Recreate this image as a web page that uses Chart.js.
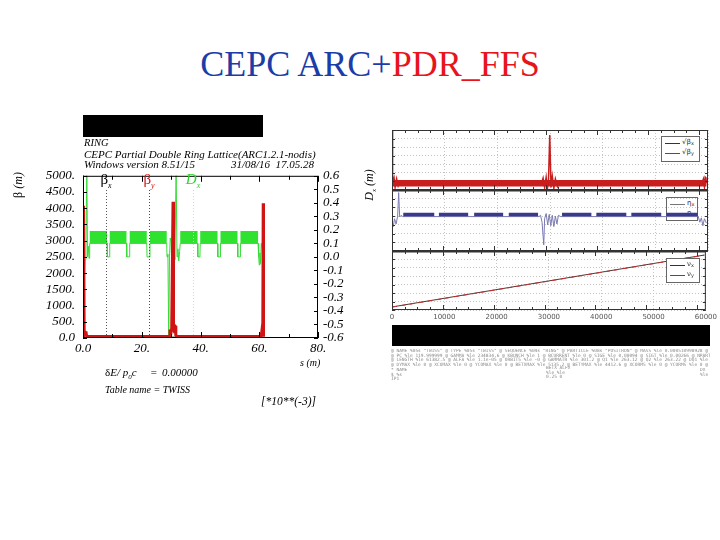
<!DOCTYPE html>
<html>
<head>
<meta charset="utf-8">
<script src="https://cdn.jsdelivr.net/npm/chart.js@4.4.1/dist/chart.umd.min.js"></script>
<style>
  body { margin: 0; background: #fff; }
  #page { position: relative; width: 720px; height: 540px; overflow: hidden; font-family: 'Liberation Serif', 'Times New Roman', serif; }
  .abs { position: absolute; white-space: pre; }
  .it { font-style: italic; }
  canvas { position: absolute; }
  .legend { position: absolute; background: #fff; border: 1px solid #666; font-family: 'DejaVu Sans', sans-serif; font-size: 7px; color: #333; }
  .legend .ln { position: absolute; left: 3px; width: 15px; height: 0; border-top: 1px solid #333; }
  .legend .lb { position: absolute; left: 20px; line-height: 8px; white-space: pre; }
  .legend sub { font-size: 5px; vertical-align: -1px; line-height: 0; }
  .tiny { position: absolute; font-family: 'DejaVu Sans Mono', monospace; font-size: 4.5px; line-height: 4.7px; color: #8a8a8a; white-space: pre; overflow: hidden; }
</style>
</head>
<body>
<div id="page">
  <div class="abs" style="left:10px;width:720px;top:44px;text-align:center;font-size:36px;line-height:40px;"><span style="color:#1c3ca8">CEPC ARC+</span><span style="color:#e8141c">PDR_FFS</span></div>

  <!-- legend of the eta panel sits under its canvas, the band crosses it -->
  <div class="legend" style="left:666px;top:197px;width:30px;height:22px;">
    <div class="ln" style="top:6px;border-color:#777;"></div><div class="lb" style="top:1px;">η<sub>x</sub></div>
    <div class="ln" style="top:15px;border-color:#c81e1e;"></div><div class="lb" style="top:11px;">η<sub>y</sub></div>
  </div>

  <canvas id="twiss" width="380" height="200" style="left:0;top:160px;"></canvas>
  <canvas id="p1" width="340" height="80" style="left:380px;top:120px;"></canvas>
  <canvas id="p2" width="340" height="81" style="left:380px;top:180px;"></canvas>
  <canvas id="p3" width="340" height="100" style="left:380px;top:241px;"></canvas>

  <!-- MAD plot header -->
  <div class="abs" style="left:83px;top:115px;width:180px;height:22px;background:#000;"></div>
  <div class="abs it" style="left:84px;top:137px;font-size:10.5px;line-height:12px;">RING</div>
  <div class="abs it" style="left:84px;top:148px;font-size:11px;line-height:12px;">CEPC Partial Double Ring Lattice(ARC1.2.1-nodis)</div>
  <div class="abs it" style="left:84px;top:158px;font-size:11px;line-height:12px;">Windows version 8.51/15</div>
  <div class="abs it" style="left:231px;top:158px;font-size:11px;line-height:12px;">31/08/16  17.05.28</div>

  <div class="abs" style="left:18px;top:185px;font-size:12px;transform:translate(-50%,-50%) rotate(-90deg);">β <span class="it">(m)</span></div>
  <div class="abs it" style="left:370px;top:185px;font-size:12px;transform:translate(-50%,-50%) rotate(-90deg);">D<sub style="font-size:7px;">x</sub> (m)</div>

  <div class="abs" style="left:106px;top:182px;font-size:15px;line-height:16px;transform:translate(-50%,-50%);color:#000;">β<sub class="it" style="font-size:8px;">x</sub></div>
  <div class="abs" style="left:149px;top:182px;font-size:15px;line-height:16px;transform:translate(-50%,-50%);color:#d01414;">β<sub class="it" style="font-size:8px;">y</sub></div>
  <div class="abs it" style="left:193px;top:182px;font-size:15px;line-height:16px;transform:translate(-50%,-50%);color:#2fd22f;">D<sub style="font-size:8px;">x</sub></div>

  <div class="abs it" style="left:300px;top:357px;font-size:10px;line-height:12px;">s (m)</div>
  <div class="abs it" style="left:105px;top:366px;font-size:11px;line-height:12px;"><span style="font-style:normal">δ</span>E/ p<sub style="font-size:7px;">0</sub>c</div>
  <div class="abs it" style="left:150px;top:366px;font-size:11px;line-height:12px;">=</div>
  <div class="abs it" style="left:162px;top:366px;font-size:11px;line-height:12px;">0.00000</div>
  <div class="abs it" style="left:105px;top:384px;font-size:10px;line-height:12px;">Table name = TWISS</div>
  <div class="abs it" style="left:261px;top:395px;font-size:11.5px;line-height:12px;">[*10**(-3)]</div>

  <!-- right plot legends -->
  <div class="legend" style="left:661px;top:136px;width:37px;height:24px;">
    <div class="ln" style="top:6px;border-color:#333;"></div><div class="lb" style="top:1px;">√β<sub>x</sub></div>
    <div class="ln" style="top:16px;border-color:#c81e1e;"></div><div class="lb" style="top:11px;">√β<sub>y</sub></div>
  </div>
  <div class="legend" style="left:666px;top:258px;width:32px;height:23px;">
    <div class="ln" style="top:6px;border-color:#333;"></div><div class="lb" style="top:1px;">ν<sub>x</sub></div>
    <div class="ln" style="top:16px;border-color:#c81e1e;"></div><div class="lb" style="top:11px;">ν<sub>y</sub></div>
  </div>

  <div class="abs" style="left:392px;top:325px;width:318px;height:21px;background:#000;"></div>
  <div class="tiny" style="left:391px;top:349px;width:319px;">@ NAME %05s "TWISS" @ TYPE %05s "TWISS" @ SEQUENCE %04s "RING" @ PARTICLE %08s "POSITRON" @ MASS %le 0.000510998928 @ CHARGE %le 1 @ ENERGY %le 120
@ PC %le 119.999999 @ GAMMA %le 234834.6 @ KBUNCH %le 1 @ BCURRENT %le 0 @ SIGE %le 0.00094 @ SIGT %le 0.00266 @ NPART %le 0 @ EX %le 1 @ EY %le 1 @ ET %le 1
@ LENGTH %le 61382.5 @ ALFA %le 1.1e-05 @ ORBIT5 %le -0 @ GAMMATR %le 301.2 @ Q1 %le 263.12 @ Q2 %le 263.22 @ DQ1 %le -0.41 @ DQ2 %le -2.1 @ DXMAX %le 0.61
@ DYMAX %le 0 @ XCOMAX %le 0 @ YCOMAX %le 0 @ BETXMAX %le 5135.2 @ BETYMAX %le 4412.6 @ XCORMS %le 0 @ YCORMS %le 0 @ DXRMS %le 0.14 @ DYRMS %le 0</div>
  <div class="tiny" style="left:391px;top:368px;">* NAME
$ %s
IP1</div>
  <div class="tiny" style="left:546px;top:366px;">BETX ALFX
%le %le
0.25 0</div>
  <div class="tiny" style="left:700px;top:368px;">DX
%le</div>
</div>

<script>
// ---- left plot: MAD twiss of the ring, s in km ----
const sTickLabels = ['0.0', '20.', '40.', '60.', '80.'];
const betaTickLabels = ['0.0', '500.', '1000.', '1500.', '2000.', '2500.', '3000.', '3500.', '4000.', '4500.', '5000.'];
const dxTickLabels = ['-0.6', '-0.5', '-0.4', '-0.3', '-0.2', '-0.1', '0.0', '0.1', '0.2', '0.3', '0.4', '0.5', '0.6'];

const sBetaY = [0, 0.1, 0.25, 0.4, 0.6, 0.8, 1.0, 1.2, 1.5, 2.0, 29.4, 29.6, 29.8, 30.2, 30.65, 30.8, 31.0, 31.2, 31.4, 31.6, 32.0, 60.5, 60.8, 61.0, 61.2, 61.35, 61.45];
const betaY = [60, 1800, 4080, 120, 220, 100, 200, 70, 50, 45, 45, 260, 80, 300, 4200, 200, 420, 150, 380, 80, 45, 45, 150, 300, 100, 4150, 40];

const sBetaX = [0, 0.06, 0.15, 61.4];
const betaX = [40, 5300, 25, 25];

const sDx = [0, 0.25, 0.5, 0.75, 1.0, 1.3, 1.55, 1.8, 2.05, 2.25, 2.3,
  8.2, 8.3, 9.0, 9.1,
  14.8, 14.9, 15.8, 15.9,
  21.7, 21.8, 22.7, 22.8,
  28.5, 28.6, 28.9, 29.2, 29.45, 29.7, 30.0, 30.3, 30.6, 30.9, 31.3, 31.7, 32.0, 32.3, 32.6, 32.9, 33.1,
  39.0, 39.1, 39.8, 39.9,
  45.8, 45.9, 46.7, 46.8,
  52.6, 52.7, 53.5, 53.6,
  59.6, 59.8, 60.0, 60.2, 60.4, 60.7, 61.0, 61.2, 61.3];
const dx = [0.03, -0.05, -0.15, -0.02, 0.05, 0.66, 0.0, 0.08, -0.01, 0.06, 0.10,
  0.10, 0.0, 0.0, 0.10,
  0.10, 0.0, 0.0, 0.10,
  0.10, 0.0, 0.0, 0.10,
  0.10, 0.0, 0.02, -0.62, 0.0, 0.14, 0.11, -0.13, -0.04, 0.10, -0.02, 0.66, 0.0, 0.06, -0.03, 0.04, 0.10,
  0.10, 0.0, 0.0, 0.10,
  0.10, 0.0, 0.0, 0.10,
  0.10, 0.0, 0.0, 0.10,
  0.10, 0.0, -0.06, 0.03, -0.05, 0.10, 0.06, 0.11, 0.10];

// dense Dx oscillation in the arc cells, drawn as a band
const sDxBand = [2.3, 8.2, 8.65, 9.1, 14.8, 15.35, 15.9, 21.7, 22.25, 22.8, 28.5, 30.8,
  33.1, 39.0, 39.45, 39.9, 45.8, 46.3, 46.8, 52.6, 53.1, 53.6, 59.6];
const dxBand = [0.145, 0.145, null, 0.145, 0.145, null, 0.145, 0.145, null, 0.145, 0.145, null,
  0.145, 0.145, null, 0.145, 0.145, null, 0.145, 0.145, null, 0.145, 0.145];

// ---- right plot: three panels, s in m ----
const ringTickLabels = ['0', '10000', '20000', '30000', '40000', '50000', '60000'];

const sSqrtBand = [0, 61400];
const sqrtBetaBand = [8, 8];
const sSqrtBy = [0, 120, 400, 600, 900, 1200, 1500, 1800, 29200, 29500, 29800, 30100, 30350, 30550, 30800, 31050, 31300, 31600, 31900, 32300, 32600, 60500, 60800, 61000, 61150, 61300, 61400];
const sqrtBetaY = [75, 8, 14, 3, 13, 5, 10, 8, 8, 14, 3, 15, 2, 10, 64, 3, 16, 2, 13, 4, 8, 8, 13, 4, 15, 14, 8];

const sEta = [0, 250, 500, 800, 1100, 1300, 1500, 1800, 2100, 28700, 29000, 29300, 29630, 29800, 30100, 30400, 30700, 31000, 31300, 31600, 31900, 32200, 32500, 32900, 59800, 60100, 60400, 60700, 61000, 61400];
const etaX = [-0.07, -0.12, -0.03, -0.09, 0.0, 0.27, -0.01, 0.01, -0.005, -0.005, 0.01, -0.07, -0.33, -0.03, 0.03, -0.10, 0.02, -0.11, 0.01, -0.12, 0.0, -0.09, 0.01, -0.005, -0.005, -0.07, -0.02, -0.11, -0.03, -0.08];
const sEtaBand = [2200, 8250, 8700, 9160, 14870, 15450, 16040, 21700, 22250, 22800, 28520, 30850,
  33200, 38930, 39400, 39900, 45750, 46250, 46730, 52570, 53050, 53550, 59710];
const etaBand = [0.02, 0.02, null, 0.02, 0.02, null, 0.02, 0.02, null, 0.02, 0.02, null,
  0.02, 0.02, null, 0.02, 0.02, null, 0.02, 0.02, null, 0.02, 0.02];

const sNu = [0, 30700, 61400];
const nuX = [18, 172, 326];
const nuY = [17, 171, 325];

function pts(xs, ys) {
    return xs.map(function (x, i) { return { x: x, y: ys[i] }; });
}

Chart.defaults.animation = false;
Chart.defaults.responsive = false;
Chart.defaults.plugins.legend.display = false;
Chart.defaults.plugins.tooltip.enabled = false;
Chart.defaults.elements.point.radius = 0;
Chart.defaults.elements.line.tension = 0;

// frame with inward ticks, plus the dotted pointer lines of the MAD labels
const frameTicks = {
    id: 'frameTicks',
    afterDatasetsDraw(chart, args, opts) {
        if (!opts.xStep) return;
        const ctx = chart.ctx;
        const a = chart.chartArea;
        const xs = chart.scales.x;
        const yl = chart.scales[opts.left || 'y'];
        const yr = chart.scales[opts.right || 'y'];
        ctx.save();
        (opts.markers || []).forEach(function (m) {
            const px = Math.round(xs.getPixelForValue(m.x)) + 0.5;
            ctx.strokeStyle = m.color;
            ctx.lineWidth = 1;
            ctx.setLineDash([1, 2]);
            ctx.beginPath();
            ctx.moveTo(px, m.top);
            ctx.lineTo(px, a.bottom);
            ctx.stroke();
        });
        ctx.setLineDash([]);
        ctx.strokeStyle = opts.color || '#000';
        ctx.lineWidth = 1;
        ctx.beginPath();
        for (let v = xs.min; v <= xs.max + 1e-9; v += opts.xStep) {
            const px = Math.round(xs.getPixelForValue(v)) + 0.5;
            const r = v / opts.xMajor;
            const len = Math.abs(r - Math.round(r)) < 1e-6 ? opts.len + 2 : opts.len;
            ctx.moveTo(px, a.top); ctx.lineTo(px, a.top + len);
            ctx.moveTo(px, a.bottom); ctx.lineTo(px, a.bottom - len);
        }
        yl.ticks.forEach(function (t) {
            const py = Math.round(yl.getPixelForValue(t.value)) + 0.5;
            ctx.moveTo(a.left, py); ctx.lineTo(a.left + opts.len, py);
        });
        yr.ticks.forEach(function (t) {
            const py = Math.round(yr.getPixelForValue(t.value)) + 0.5;
            ctx.moveTo(a.right, py); ctx.lineTo(a.right - opts.len, py);
        });
        ctx.stroke();
        ctx.strokeRect(a.left + 0.5, a.top + 0.5, a.width - 1, a.height - 1);
        if (opts.topWidth) {
            ctx.lineWidth = opts.topWidth;
            ctx.beginPath();
            ctx.moveTo(a.left, a.top + 0.5);
            ctx.lineTo(a.right, a.top + 0.5);
            ctx.stroke();
        }
        ctx.restore();
    }
};
Chart.register(frameTicks);

const serifIt = function (size) {
    return { family: "'Liberation Serif', 'Times New Roman', serif", style: 'italic', size: size };
};

new Chart(document.getElementById('twiss'), {
    type: 'line',
    data: {
        datasets: [
            { data: pts(sBetaY, betaY), borderColor: '#d01414', borderWidth: 3, order: 1, yAxisID: 'y' },
            { data: pts(sBetaX, betaX), borderColor: '#000', borderWidth: 1, order: 2, yAxisID: 'y' },
            { data: pts(sDxBand, dxBand), borderColor: '#2fe22f', borderWidth: 12.5, order: 3, yAxisID: 'y1' },
            { data: pts(sDx, dx), borderColor: '#3ada3a', borderWidth: 1, order: 4, yAxisID: 'y1' }
        ]
    },
    options: {
        layout: { padding: { top: 12 } },
        scales: {
            x: {
                type: 'linear', min: 0, max: 80,
                afterFit: function (s) { s.height = 22; },
                grid: { display: false, drawTicks: false }, border: { display: false },
                ticks: { stepSize: 20, padding: 3, color: '#000', font: serifIt(13), maxRotation: 0, autoSkip: false,
                    callback: function (v, i) { return sTickLabels[i]; } }
            },
            y: {
                position: 'left', min: 0, max: 5000,
                afterFit: function (s) { s.width = 83; },
                grid: { display: false, drawTicks: false }, border: { display: false },
                ticks: { stepSize: 500, padding: 8, color: '#000', font: serifIt(13), autoSkip: false,
                    callback: function (v, i) { return betaTickLabels[i]; } }
            },
            y1: {
                position: 'right', min: -0.6, max: 0.6,
                afterFit: function (s) { s.width = 62; },
                grid: { display: false, drawTicks: false }, border: { display: false },
                ticks: { stepSize: 0.1, padding: 5, color: '#000', font: serifIt(13), autoSkip: false,
                    callback: function (v, i) { return dxTickLabels[i]; } }
            }
        },
        plugins: {
            frameTicks: {
                xStep: 10, xMajor: 20, len: 4, left: 'y', right: 'y1',
                markers: [
                    { x: 7.7, color: '#555', top: 30 },
                    { x: 22.3, color: '#d01414', top: 30 },
                    { x: 37.6, color: '#b6ecb6', top: 30 }
                ]
            }
        }
    }
});

function panel(id, datasets, yMin, yMax, yStep, showX, topWidth, padTop, padBottom) {
    return new Chart(document.getElementById(id), {
        type: 'line',
        data: { datasets: datasets },
        options: {
            layout: { padding: { top: padTop, bottom: padBottom, left: 12, right: 12 } },
            scales: {
                x: {
                    type: 'linear', min: 0, max: 61700,
                    afterFit: function (s) { s.height = showX ? 31 : 0; },
                    grid: { color: '#c4c4c4', drawTicks: false },
                    border: { display: false, dash: [1, 2] },
                    ticks: { display: showX, stepSize: 10000, includeBounds: false, padding: 3, maxRotation: 0, autoSkip: false,
                        color: '#555', font: { family: "'DejaVu Sans', sans-serif", size: 7 },
                        callback: function (v, i) { return ringTickLabels[i]; } }
                },
                y: {
                    min: yMin, max: yMax,
                    afterFit: function (s) { s.width = 0; },
                    grid: { color: '#c4c4c4', drawTicks: false },
                    border: { display: false, dash: [1, 2] },
                    ticks: { display: false, stepSize: yStep }
                }
            },
            plugins: {
                frameTicks: { xStep: 2500, xMajor: 10000, len: 3, color: '#333', topWidth: topWidth }
            }
        }
    });
}

panel('p1', [
    { data: pts(sSqrtBy, sqrtBetaY), borderColor: '#c81e1e', borderWidth: 1.5, order: 1 },
    { data: pts(sSqrtBand, sqrtBetaBand), borderColor: '#c81e1e', borderWidth: 6.5, order: 2 }
], 0, 70, 10, false, 0, 10, 10);

panel('p2', [
    { data: pts(sEtaBand, etaBand), borderColor: '#3a3a8c', borderWidth: 3.5, order: 1 },
    { data: pts(sEta, etaX), borderColor: '#7a7ab4', borderWidth: 1, order: 2 }
], -0.4, 0.3, 0.1, false, 2, 10, 10);

panel('p3', [
    { data: pts(sNu, nuY), borderColor: '#c83030', borderWidth: 1, borderDash: [5, 4], order: 1 },
    { data: pts(sNu, nuX), borderColor: '#553333', borderWidth: 1, order: 2 }
], 0, 350, 50, true, 2, 10, 0);
</script>
</body>
</html>
